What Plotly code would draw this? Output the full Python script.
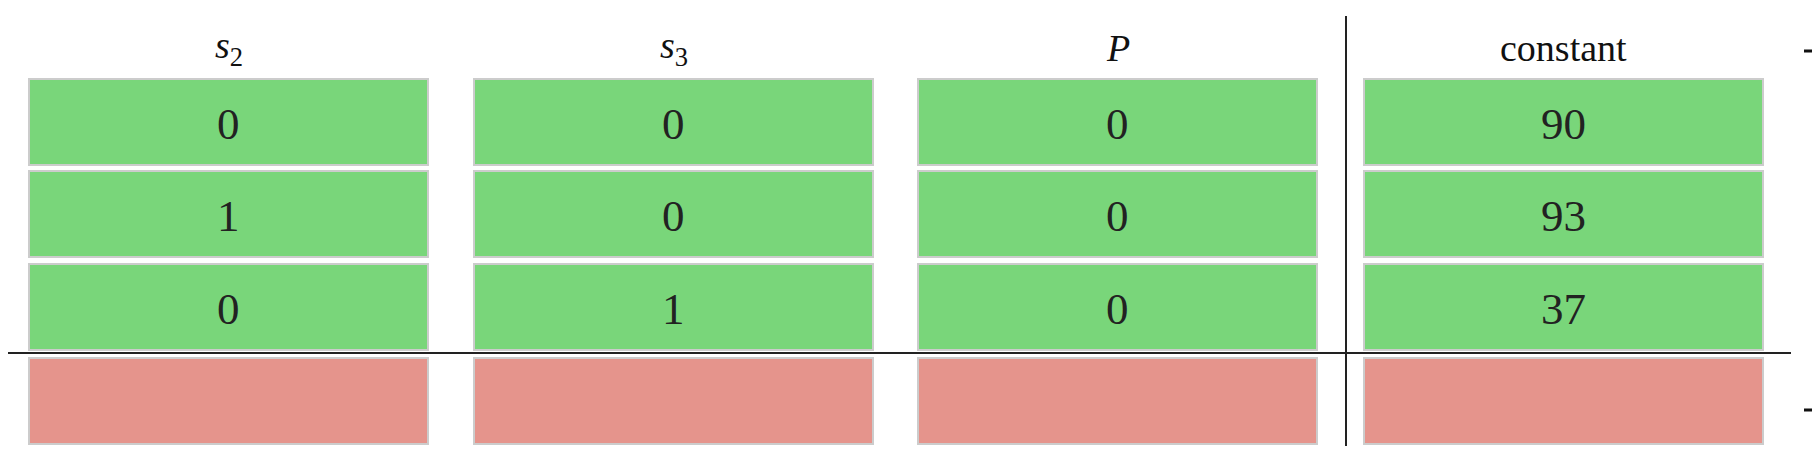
import plotly.graph_objects as go

headers = ['<i>s</i><sub>2</sub>', '<i>s</i><sub>3</sub>', '<i>P</i>', 'constant']
rows = [
    ['0', '0', '0', '90'],
    ['1', '0', '0', '93'],
    ['0', '1', '0', '37'],
    ['', '', '', ''],
]
row_colors = ['#79d67a', '#79d67a', '#79d67a', '#e5948c']

col_x0 = [29, 474, 918, 1364]
col_w = 399
row_y0 = [79, 171, 264, 358]
row_h = 86

# the page body adds an 8px margin, so shift the visible window accordingly
OFF = 8

fig = go.Figure()
shapes = []
annotations = []
font = 'Liberation Serif, DejaVu Serif, serif'

for j, h in enumerate(headers):
    annotations.append(dict(x=col_x0[j] + col_w / 2, y=48, text=h, showarrow=False,
                            font=dict(family=font, size=38, color='#111')))

for i, row in enumerate(rows):
    for j, val in enumerate(row):
        x0, y0 = col_x0[j], row_y0[i]
        shapes.append(dict(type='rect', x0=x0, x1=x0 + col_w, y0=y0, y1=y0 + row_h,
                           fillcolor=row_colors[i], line=dict(color='#cccccc', width=2)))
        if val:
            annotations.append(dict(x=x0 + col_w / 2, y=y0 + row_h / 2 + 2, text=val,
                                    showarrow=False,
                                    font=dict(family=font, size=45, color='#222')))

# divider lines
shapes.append(dict(type='line', x0=1346, x1=1346, y0=16, y1=446, line=dict(color='#222', width=2)))
shapes.append(dict(type='line', x0=0, x1=1791, y0=353, y1=353, line=dict(color='#222', width=2)))
# bracket
shapes.append(dict(type='path', path='M 1804 51 L 1815 51 L 1815 410 L 1804 410',
                   line=dict(color='#111', width=3)))

fig.update_layout(
    width=1820, height=466, margin=dict(l=0, r=0, t=0, b=0),
    plot_bgcolor='white', paper_bgcolor='white', showlegend=False,
    shapes=shapes, annotations=annotations,
    xaxis=dict(range=[OFF, 1820 + OFF], visible=False, fixedrange=True),
    yaxis=dict(range=[466 + OFF, OFF], visible=False, fixedrange=True),
)
fig.write_html("out.html")
